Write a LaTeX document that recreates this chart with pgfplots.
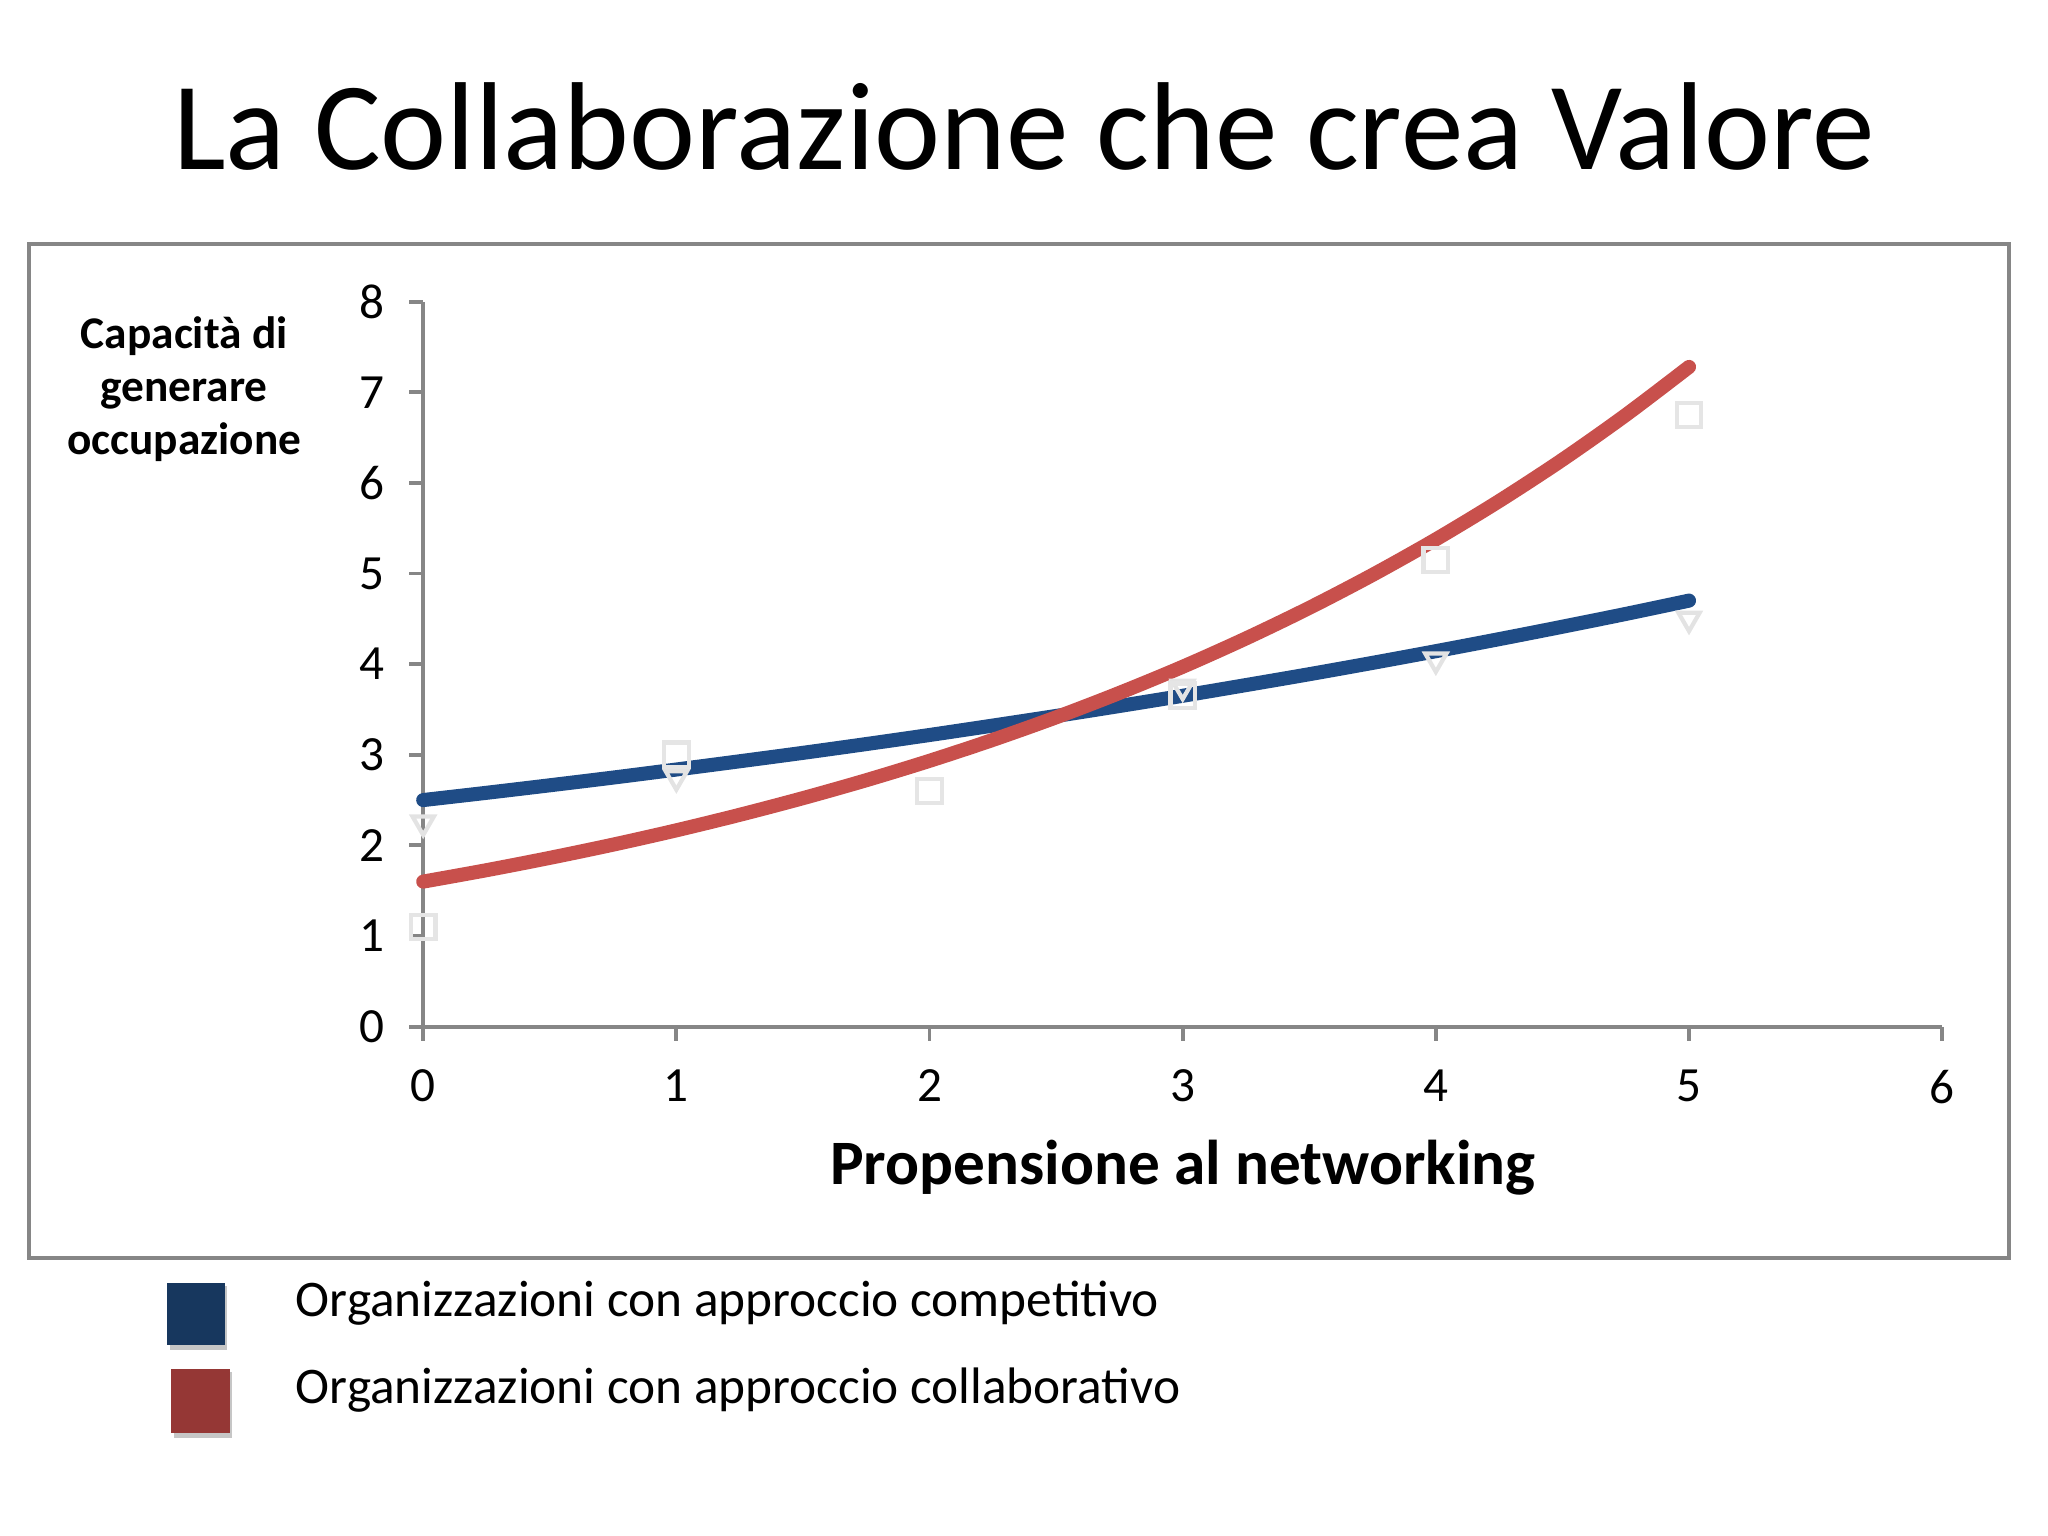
\documentclass[border=0pt]{standalone}
\usepackage{pgfplots}
\pgfplotsset{compat=1.18}
\usepackage{fontspec}
\setmainfont{Carlito}

\definecolor{compblue}{HTML}{1F4C86}
\definecolor{collred}{HTML}{C8504C}
\definecolor{axgray}{HTML}{868686}
\definecolor{legblue}{HTML}{17375E}
\definecolor{legred}{HTML}{953735}

\begin{document}
\begin{tikzpicture}
  % page 2048x1536 -> 20.48cm x 15.36cm
  \path[use as bounding box] (0,0) rectangle (20.48,15.36);

  % title
  \node[anchor=base] at (10.24,13.66) {\fontsize{35.6}{42}\selectfont La Collaborazione che crea Valore};

  % chart frame
  \draw[axgray, line width=1.2pt] (0.287,2.782) rectangle (20.088,12.918);

  \begin{axis}[
    at={(4.232cm,5.094cm)}, anchor=south west,
    scale only axis,
    width=15.19cm, height=7.249cm,
    xmin=0, xmax=6, ymin=0, ymax=8,
    axis x line*=bottom, axis y line*=left,
    axis line style={axgray, line width=1.1pt, -},
    xtick={0,...,6}, ytick={0,...,8},
    tick style={axgray, line width=1.1pt},
    tick align=outside, major tick length=0.14cm,
    /pgf/number format/assume math mode=true,
    ticklabel style={font=\fontsize{14}{16}\selectfont},
    xticklabel style={yshift=-0.17cm},
    yticklabel style={xshift=-0.12cm},
    clip=false,
  ]
    % faint shadow markers of the original points
    \addplot[only marks, mark=triangle, mark size=3.5pt, mark options={rotate=180, gray!22, line width=1.2pt}]
      coordinates {(0,2.25) (1,2.75) (3,3.75) (4,4.05) (5,4.5)};
    \addplot[only marks, mark=square, mark size=3.5pt, mark options={gray!20, line width=1.2pt}]
      coordinates {(0,1.1) (1,3.0) (2,2.6) (3,3.65) (4,5.15) (5,6.75)};

    % competitive approach
    \addplot[compblue, line width=4pt, line cap=round, smooth] coordinates {
      (0,2.500) (0.25,2.580) (0.5,2.663) (0.75,2.748) (1,2.837)
      (1.25,2.928) (1.5,3.021) (1.75,3.118) (2,3.218) (2.25,3.322)
      (2.5,3.428) (2.75,3.538) (3,3.651) (3.25,3.769) (3.5,3.889)
      (3.75,4.014) (4,4.143) (4.25,4.276) (4.5,4.413) (4.75,4.554) (5,4.701)
    };
    % collaborative approach
    \addplot[collred, line width=4pt, line cap=round, smooth] coordinates {
      (0,1.600) (0.25,1.726) (0.5,1.862) (0.75,2.008) (1,2.166)
      (1.25,2.337) (1.5,2.521) (1.75,2.719) (2,2.933) (2.25,3.164)
      (2.5,3.413) (2.75,3.682) (3,3.971) (3.25,4.284) (3.5,4.621)
      (3.75,4.985) (4,5.377) (4.25,5.800) (4.5,6.256) (4.75,6.749) (5,7.280)
    };
  \end{axis}

  % axis titles
  \node[align=center, font=\fontsize{12.9}{15}\selectfont\bfseries] at (1.842,11.47)
    {Capacità di\\generare\\occupazione};
  \node[font=\fontsize{18}{22}\selectfont\bfseries] at (11.83,3.68) {Propensione al networking};

  % legend
  \fill[gray!45] (1.70,1.86) rectangle (2.27,2.50);
  \fill[legblue] (1.672,1.907) rectangle (2.246,2.534);
  \fill[gray!45] (1.74,0.98) rectangle (2.32,1.64);
  \fill[legred] (1.711,1.032) rectangle (2.299,1.672);
  \node[anchor=west, font=\fontsize{14.6}{17}\selectfont] at (2.835,2.325) {Organizzazioni con approccio competitivo};
  \node[anchor=west, font=\fontsize{14.6}{17}\selectfont] at (2.835,1.463) {Organizzazioni con approccio collaborativo};
\end{tikzpicture}
\end{document}
